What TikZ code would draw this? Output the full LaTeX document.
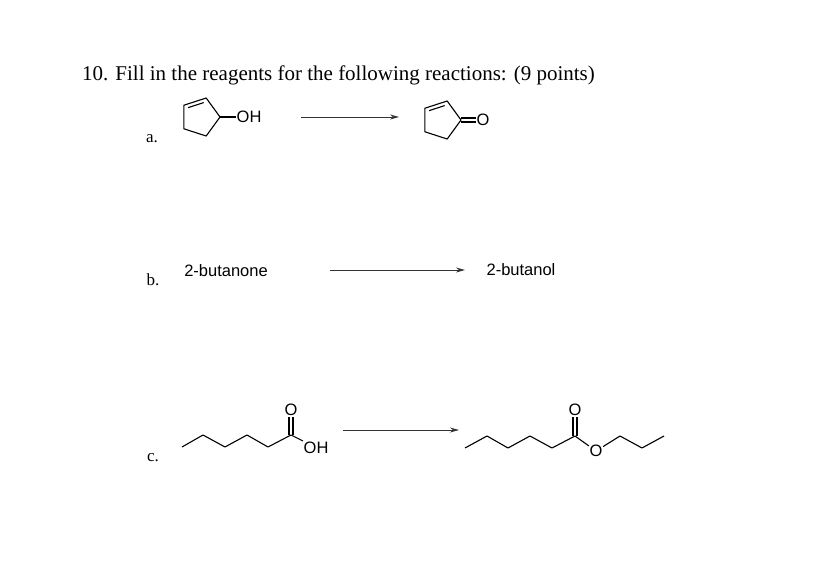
\documentclass[tikz,border=0pt]{standalone}
\usepackage{fontspec}
\setmainfont{Liberation Serif}
\newfontfamily\chemfont{Liberation Sans}
\usetikzlibrary{arrows.meta,calc}
\begin{document}
\begin{tikzpicture}[x=1pt,y=1pt,yscale=-1,
  bond/.style={line width=1.1pt,line join=round},
  rxn/.style={line width=0.9pt,-{Stealth[length=9pt,width=5pt]},draw=black!80},
  atom/.style={inner sep=0.5pt,font=\chemfont\fontsize{16.5}{16.5}\selectfont},
  lbl/.style={inner sep=0pt,font=\fontsize{17}{17}\selectfont}]
\useasboundingbox (0,0) rectangle (828,582);
% Title
\node[lbl,anchor=west,font=\fontsize{21}{21}\selectfont] (title) at (82,75) {10. Fill in the reagents for the following reactions: (9 points)};
\node[lbl] (la) at (152,139) {a.};
\node[lbl] (lb) at (153,280) {b.};
\node[lbl] (lc) at (153,458) {c.};
% a. cyclopentenol
\foreach \i in {0,...,4}
  \coordinate (r\i) at ($(200,117)+({-72*\i}:20)$);
\draw[bond] (r0)--(r1)--(r2)--(r3)--(r4)--cycle;
\draw[bond] ($(r1)!0.15!(r2)+(0.9,3.5)$)--($(r2)!0.15!(r1)+(0.9,3.5)$);
\node[atom,anchor=west] (oh) at (236,117) {OH};
\draw[bond] (r0)--(oh.west);
% a. cyclopentenone
\foreach \i in {0,...,4}
  \coordinate (p\i) at ($(441,120)+({-72*\i}:20)$);
\draw[bond] (p0)--(p1)--(p2)--(p3)--(p4)--cycle;
\draw[bond] ($(p1)!0.15!(p2)+(0.9,3.5)$)--($(p2)!0.15!(p1)+(0.9,3.5)$);
\node[atom,anchor=west] (ok) at (476,120) {O};
\draw[bond] ([yshift=-2pt]p0)--([yshift=-2pt]ok.west);
\draw[bond] ([yshift=2pt]p0)--([yshift=2pt]ok.west);
\coordinate (aa) at (301,117); \coordinate (ab) at (399,117);
\draw[rxn] (aa)--(ab);
% b.
\node[atom] (bon) at (226,271) {2-butanone};
\node[atom] (bol) at (521,270) {2-butanol};
\coordinate (ba) at (330,270); \coordinate (bb) at (465,270);
\draw[rxn] (ba)--(bb);
% c. hexanoic acid
\draw[bond] (182,447)--(203,435)--(225,447)--(247,435)--(268,447)--(291,435) coordinate (c1);
\node[atom] (co1) at (291,410) {O};
\draw[bond] ([xshift=-2pt]c1)--([xshift=-2pt]co1.south);
\draw[bond] ([xshift=2pt]c1)--([xshift=2pt]co1.south);
\node[atom,anchor=north west] (coh) at (303,441) {OH};
\draw[bond] (c1)--(coh.north west);
\coordinate (ca) at (343,430); \coordinate (cb) at (459,430);
\draw[rxn] (ca)--(cb);
% c. propyl hexanoate
\draw[bond] (465,448)--(487,436)--(508,448)--(530,436)--(552,448)--(575,436) coordinate (c2);
\node[atom] (co2) at (575,410) {O};
\draw[bond] ([xshift=-2pt]c2)--([xshift=-2pt]co2.south);
\draw[bond] ([xshift=2pt]c2)--([xshift=2pt]co2.south);
\node[atom] (oe) at (596,451) {O};
\draw[bond] (c2)--(oe);
\draw[bond] (oe)--(620,436)--(642,448)--(664,436);
\end{tikzpicture}
\end{document}
